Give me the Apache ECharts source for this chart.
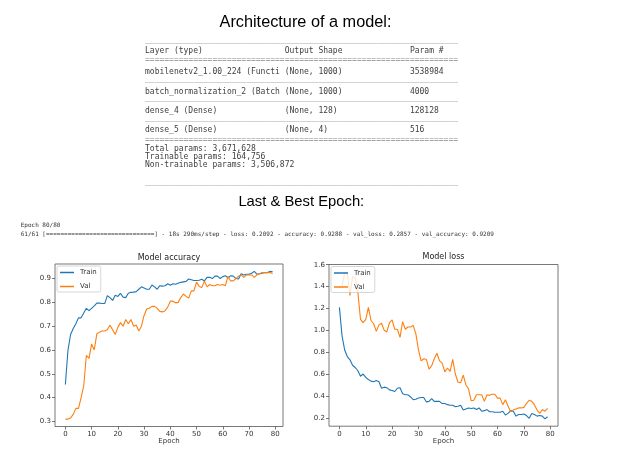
<!DOCTYPE html>
<html><head><meta charset="utf-8">
<script src="https://cdn.jsdelivr.net/npm/echarts@6/dist/echarts.min.js"></script>
<style>html,body{margin:0;padding:0;background:#fff}#c{width:617px;height:449px}</style>
</head><body><div id="c"></div>
<script>
// ---- data ----
const summaryLines = [
  "_________________________________________________________________",
  "Layer (type)                 Output Shape              Param #   ",
  "=================================================================",
  "mobilenetv2_1.00_224 (Functi (None, 1000)              3538984   ",
  "_________________________________________________________________",
  "batch_normalization_2 (Batch (None, 1000)              4000      ",
  "_________________________________________________________________",
  "dense_4 (Dense)              (None, 128)               128128    ",
  "_________________________________________________________________",
  "dense_5 (Dense)              (None, 4)                 516       ",
  "=================================================================",
  "Total params: 3,671,628",
  "Trainable params: 164,756",
  "Non-trainable params: 3,506,872",
  "_________________________________________________________________"
];
const logLines = [
  "Epoch 80/80",
  "61/61 [==============================] - 18s 290ms/step - loss: 0.2092 - accuracy: 0.9288 - val_loss: 0.2857 - val_accuracy: 0.9209"
];
const xTicks = [0,10,20,30,40,50,60,70,80];
const accTicks = [0.3,0.4,0.5,0.6,0.7,0.8,0.9];
const lossTicks = [0.2,0.4,0.6,0.8,1.0,1.2,1.4,1.6];

const accTrain = [0.455,0.60,0.665,0.69,0.71,0.735,0.735,0.755,0.775,0.765,
 0.775,0.785,0.797,0.797,0.795,0.795,0.828,0.82,0.808,0.83,
 0.825,0.838,0.822,0.82,0.838,0.842,0.843,0.845,0.855,0.865,
 0.86,0.855,0.855,0.873,0.865,0.855,0.87,0.868,0.87,0.878,
 0.872,0.878,0.876,0.88,0.884,0.886,0.888,0.898,0.895,0.892,
 0.892,0.893,0.897,0.89,0.905,0.905,0.9,0.91,0.91,0.9,
 0.908,0.912,0.902,0.912,0.91,0.9,0.898,0.92,0.915,0.918,
 0.918,0.922,0.93,0.918,0.92,0.922,0.925,0.925,0.93,0.9288];
const accVal = [0.31,0.31,0.315,0.33,0.355,0.355,0.40,0.45,0.577,0.565,
 0.625,0.60,0.668,0.675,0.68,0.68,0.685,0.705,0.685,0.665,
 0.695,0.715,0.70,0.728,0.71,0.728,0.70,0.705,0.68,0.70,
 0.745,0.772,0.775,0.783,0.783,0.775,0.762,0.76,0.765,0.78,
 0.805,0.805,0.798,0.80,0.82,0.835,0.825,0.818,0.848,0.848,
 0.885,0.867,0.862,0.89,0.865,0.875,0.87,0.87,0.875,0.872,
 0.875,0.87,0.91,0.89,0.89,0.9,0.91,0.915,0.905,0.915,
 0.915,0.915,0.905,0.915,0.92,0.925,0.925,0.925,0.925,0.9209];
const lossTrain = [1.21,0.95,0.82,0.76,0.73,0.68,0.66,0.63,0.58,0.60,
 0.57,0.55,0.535,0.53,0.54,0.53,0.47,0.48,0.475,0.455,
 0.45,0.44,0.47,0.475,0.42,0.41,0.41,0.39,0.365,0.37,
 0.38,0.385,0.385,0.345,0.35,0.375,0.35,0.35,0.35,0.33,
 0.33,0.32,0.315,0.315,0.30,0.305,0.315,0.27,0.28,0.29,
 0.285,0.29,0.275,0.29,0.26,0.265,0.275,0.255,0.255,0.25,
 0.25,0.25,0.26,0.225,0.24,0.265,0.26,0.215,0.23,0.23,
 0.235,0.22,0.195,0.24,0.23,0.215,0.22,0.215,0.19,0.2092];
const lossVal = [1.39,1.40,1.535,1.52,1.32,1.49,1.48,1.35,1.10,1.07,
 1.10,1.21,1.09,1.06,0.99,1.05,1.065,1.00,0.985,1.07,
 1.095,1.01,1.01,0.935,1.08,1.01,1.03,1.03,1.045,0.97,
 0.82,0.72,0.74,0.735,0.645,0.675,0.74,0.79,0.72,0.70,
 0.62,0.655,0.625,0.735,0.60,0.525,0.52,0.59,0.50,0.465,
 0.355,0.36,0.41,0.41,0.41,0.35,0.41,0.405,0.415,0.415,
 0.38,0.38,0.32,0.365,0.305,0.255,0.27,0.28,0.29,0.29,
 0.295,0.33,0.36,0.35,0.32,0.27,0.24,0.275,0.26,0.2857];

// ---- build ----
const pairs = arr => arr.map((v,i)=>[i,v]);
function pad(a,b){const lo=Math.min(...a,...b),hi=Math.max(...a,...b),r=hi-lo;return [lo-0.05*r,hi+0.05*r];}
const accR = pad(accTrain,accVal), lossR = pad(lossTrain,lossVal);
const xMin = -0.05*79, xMax = 79+0.05*79;
const BLUE='#1f77b4', ORANGE='#ff7f0e';
const FONT='"DejaVu Sans"';

const gridStyle = {show:true,borderColor:'#555',borderWidth:0.8,backgroundColor:'#fff'};
const grids = [
  Object.assign({left:55,top:264,width:228,height:162.5},gridStyle),
  Object.assign({left:329,top:264.5,width:229,height:161.7},gridStyle)
];
function xAxis(gi){return {type:'value',gridIndex:gi,min:xMin,max:xMax,splitLine:{show:false},
  axisLine:{show:false,onZero:false},axisTick:{show:true,customValues:xTicks,length:3,lineStyle:{color:'#555',width:0.8}},
  axisLabel:{customValues:xTicks,fontSize:7,color:'#333',fontFamily:FONT,margin:4}};}
function yAxis(gi,r,ticks){return {type:'value',gridIndex:gi,min:r[0],max:r[1],splitLine:{show:false},
  axisLine:{show:false,onZero:false},axisTick:{show:true,customValues:ticks,length:3,lineStyle:{color:'#555',width:0.8}},
  axisLabel:{customValues:ticks,fontSize:7,color:'#333',fontFamily:FONT,margin:4,
    formatter:v=>v.toFixed(1)}};}
function line(name,gi,data,color){return {name,type:'line',xAxisIndex:gi,yAxisIndex:gi,data:pairs(data),
  showSymbol:false,symbol:'none',lineStyle:{color,width:1.1},itemStyle:{color},animation:false,z:2};}

const graphic = [];
graphic.push({type:'text',x:305.5,y:22.5,style:{text:'Architecture of a model:',font:'16.3px "Liberation Sans"',fill:'#000',align:'center',verticalAlign:'middle'}});
graphic.push({type:'text',x:301.3,y:201.5,style:{text:'Last & Best Epoch:',font:'14.8px "Liberation Sans"',fill:'#000',align:'center',verticalAlign:'middle'}});
const sumY = [40,50.7,60,72.3,78.5,91.7,97.8,111.3,117.5,130,139.7,148.7,156.5,164.5,181.8];
summaryLines.forEach((t,i)=>{
  const isRule = /^[_=]+$/.test(t);
  graphic.push({type:'text',x:145,y:sumY[i],style:{text:t,font:'8px "DejaVu Sans Mono"',
    fill:isRule?'#888':'#404040',align:'left',verticalAlign:'middle'}});
});
const logY=[225,234.3];
logLines.forEach((t,i)=>graphic.push({type:'text',x:20.7,y:logY[i],style:{text:t,font:'6px "DejaVu Sans Mono"',fill:'#333',align:'left',verticalAlign:'middle'}}));
graphic.push({type:'text',x:169,y:257.5,style:{text:'Model accuracy',font:'8px '+FONT,fill:'#222',align:'center',verticalAlign:'middle'}});
graphic.push({type:'text',x:443.5,y:257,style:{text:'Model loss',font:'8px '+FONT,fill:'#222',align:'center',verticalAlign:'middle'}});
graphic.push({type:'text',x:169,y:441.5,style:{text:'Epoch',font:'7px '+FONT,fill:'#333',align:'center',verticalAlign:'middle'}});
graphic.push({type:'text',x:443.5,y:441.5,style:{text:'Epoch',font:'7px '+FONT,fill:'#333',align:'center',verticalAlign:'middle'}});

const legendBase = {orient:'vertical',itemWidth:14,itemHeight:1.5,itemGap:7,icon:'rect',
  backgroundColor:'rgba(255,255,255,0.8)',borderColor:'#ccc',borderWidth:0.8,borderRadius:2,padding:[3,4,2,3],
  textStyle:{fontSize:7,color:'#333',fontFamily:FONT,padding:[0,0,0,1]},selectedMode:false,data:['Train','Val']};

const chart = echarts.init(document.getElementById('c'),null,{renderer:'canvas'});
chart.setOption({
  animation:false,
  backgroundColor:'#fff',
  grid:grids,
  xAxis:[xAxis(0),xAxis(1)],
  yAxis:[yAxis(0,accR,accTicks),yAxis(1,lossR,lossTicks)],
  legend:[Object.assign({left:57,top:266},legendBase),Object.assign({left:331,top:266.5,z:5},legendBase)],
  series:[line('Train',0,accTrain,BLUE),line('Val',0,accVal,ORANGE),line('Train',1,lossTrain,BLUE),line('Val',1,lossVal,ORANGE)],
  graphic:graphic
});
</script></body></html>
